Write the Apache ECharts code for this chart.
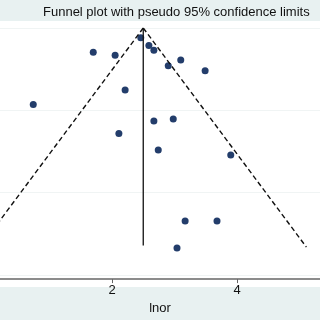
<!DOCTYPE html>
<html>
<head>
<meta charset="utf-8">
<script src="https://cdn.jsdelivr.net/npm/echarts@6/dist/echarts.min.js"></script>
<style>
  html, body {margin: 0; padding: 0; background: #e8f1f1;}
  #main {width: 320px; height: 320px;}
</style>
</head>
<body>
<div id="main"></div>
<script>
// study estimates: lnor (x) and standard error (y)
const lnor = [1.70, 2.05, 2.46, 2.59, 2.67, 2.90, 3.10, 3.49, 0.74, 2.21, 2.11, 2.67, 2.98, 2.74, 3.90, 3.17, 3.68, 3.04];
const se = [0.147, 0.165, 0.059, 0.106, 0.135, 0.229, 0.194, 0.259, 0.465, 0.376, 0.641, 0.565, 0.553, 0.741, 0.771, 1.171, 1.171, 1.335];

// pooled estimate line and pseudo 95% limits
const pooledLine = [[2.5, 0], [2.5, 1.32]];
const leftLimit = [[2.5, 0], [-0.11, 1.33]];
const rightLimit = [[2.5, 0], [5.11, 1.33]];
const xTicks = [2, 4];

const points = lnor.map((v, i) => [v, se[i]]);

const chart = echarts.init(document.getElementById('main'));
chart.setOption({
  backgroundColor: '#e8f1f1',
  animation: false,
  textStyle: {fontFamily: 'Liberation Sans, Arial, sans-serif'},
  graphic: [{
    type: 'rect', left: 0, top: 21, z: -10,
    shape: {width: 320, height: 266},
    style: {fill: '#ffffff'}
  }],
  title: {
    text: 'Funnel plot with pseudo 95% confidence limits',
    left: 38, top: 1,
    textStyle: {fontSize: 13, fontWeight: 'normal', color: '#111'}
  },
  grid: {left: 0, right: 0, top: 28, bottom: 37},
  xAxis: {
    type: 'value',
    min: 0.208, max: 5.328,
    offset: 4,
    name: 'lnor',
    nameLocation: 'middle',
    nameGap: 22,
    nameTextStyle: {fontSize: 13, color: '#111'},
    axisLine: {onZero: false, lineStyle: {color: '#666', width: 1.5}},
    axisTick: {customValues: xTicks, length: 4, lineStyle: {color: '#666'}},
    axisLabel: {customValues: xTicks, fontSize: 13, color: '#111', margin: 5},
    splitLine: {show: false}
  },
  yAxis: {
    type: 'value',
    inverse: true,
    min: 0, max: 1.5, interval: 0.5,
    axisLine: {show: false},
    axisTick: {show: false},
    axisLabel: {show: false},
    splitLine: {lineStyle: {color: '#f0f4f4', width: 1}}
  },
  series: [
    {
      type: 'line', data: pooledLine, symbol: 'none',
      lineStyle: {color: '#111', width: 1.3}
    },
    {
      type: 'line', data: leftLimit, symbol: 'none',
      lineStyle: {color: '#111', width: 1.4, type: [5, 3]}
    },
    {
      type: 'line', data: rightLimit, symbol: 'none',
      lineStyle: {color: '#111', width: 1.4, type: [5, 3]}
    },
    {
      type: 'scatter', data: points, symbolSize: 7,
      itemStyle: {color: '#233d6b', opacity: 1}
    }
  ]
});
</script>
</body>
</html>
